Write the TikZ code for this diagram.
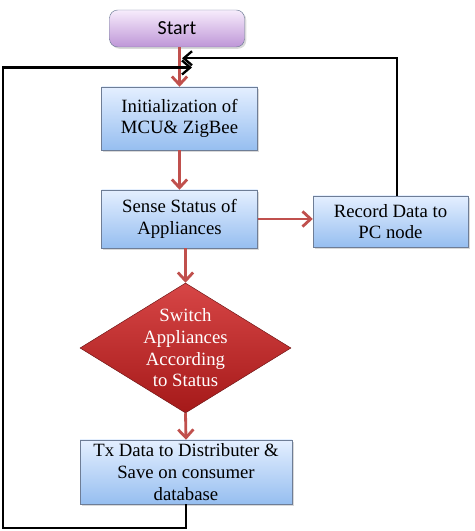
\documentclass[tikz,border=0pt]{standalone}
\usepackage{fontspec}
\setmainfont{Liberation Serif}
\newfontfamily\startfont{Carlito}
\usetikzlibrary{
  shapes.geometric,
  positioning,
  shadows,
  arrows.meta,
  calc
}
\definecolor{boxtop}{RGB}{228,239,255}
\definecolor{boxbottom}{RGB}{150,190,240}
\definecolor{boxborder}{RGB}{110,125,150}
\definecolor{starttop}{RGB}{247,236,252}
\definecolor{startbottom}{RGB}{190,150,215}
\definecolor{decisiontop}{RGB}{215,70,70}
\definecolor{decisionbottom}{RGB}{165,25,25}
\definecolor{decisionborder}{RGB}{110,20,20}
\definecolor{flowred}{RGB}{192,80,77}

\begin{document}
\begin{tikzpicture}[
  font=\fontsize{16}{18.5}\selectfont,
  process/.style={
    rectangle,
    draw=boxborder,
    top color=boxtop,
    bottom color=boxbottom,
    thin,
    minimum width=4.68cm,
    align=center,
    inner sep=1pt,
    drop shadow={opacity=0.3,shadow xshift=1.5pt,shadow yshift=-1.5pt}
  },
  terminal/.style={
    rectangle,
    rounded corners=7pt,
    draw=boxborder,
    top color=starttop,
    bottom color=startbottom,
    thin,
    minimum width=4.05cm,
    minimum height=1.11cm,
    font=\startfont\fontsize{17}{20}\selectfont,
    drop shadow={opacity=0.3,shadow xshift=1.5pt,shadow yshift=-1.5pt}
  },
  decision/.style={
    diamond,
    draw=decisionborder,
    top color=decisiontop,
    bottom color=decisionbottom,
    text=white,
    aspect=1.68,
    inner sep=-8pt,
    minimum width=6.33cm,
    minimum height=3.9cm,
    align=center
  },
  flow/.style={
    -{Straight Barb[length=7pt,width=13pt]},
    line width=2.4pt,
    flowred
  },
  loop/.style={
    -{Straight Barb[length=7pt,width=12pt]},
    line width=2pt,
    black
  }
]
\useasboundingbox (0,0) rectangle (14.22,15.93);

% ------------------------------------------------------------------
% Main column
% ------------------------------------------------------------------
\node[terminal] (start) at (5.31,15.075) {Start};
\node[process, minimum height=1.89cm] (init) at (5.385,12.375)
  {Initialization of\\ MCU\& ZigBee};
\node[process, minimum height=1.74cm] (sense) at (5.385,9.36)
  {Sense Status of\\ Appliances};
\node[decision] (switch) at (5.565,5.49)
  {Switch\\ Appliances\\ According\\ to Status};
\node[process, minimum width=6.36cm, minimum height=1.92cm] (tx) at (5.58,1.77)
  {Tx Data to Distributer \&\\ Save on consumer\\ database};

% side branch
\node[process, minimum width=4.65cm, minimum height=1.53cm] (record) at (11.715,9.285)
  {Record Data to\\ PC node};

% ------------------------------------------------------------------
% Forward flow
% ------------------------------------------------------------------
\draw[flow] (init.north |- start.south) -- (init.north);
\draw[flow] (init) -- (sense);
\draw[flow] (sense.east) -- (sense.east -| record.west);
\draw[flow] (switch.north |- sense.south) -- (switch.north);
\draw[flow] (switch.south) -- (tx.north);

% ------------------------------------------------------------------
% Return loops
% ------------------------------------------------------------------
\coordinate (loopL) at (0.09,0.09);
\coordinate (loopLtop) at (0.09,13.905);
\coordinate (loopLtip) at (5.76,13.905);
\coordinate (loopR) at ($(record.north)+(0.195,0)$);
\coordinate (loopRtop) at ($(loopR)+(0,4.125)$);
\coordinate (loopRtip) at (5.46,0 |- loopRtop);

\draw[loop] (tx.south) -- (tx.south |- loopL) -- (loopL) -- (loopLtop) -- (loopLtip);
\draw[loop] (loopR) -- (loopRtop) -- (loopRtip);

\end{tikzpicture}
\end{document}
